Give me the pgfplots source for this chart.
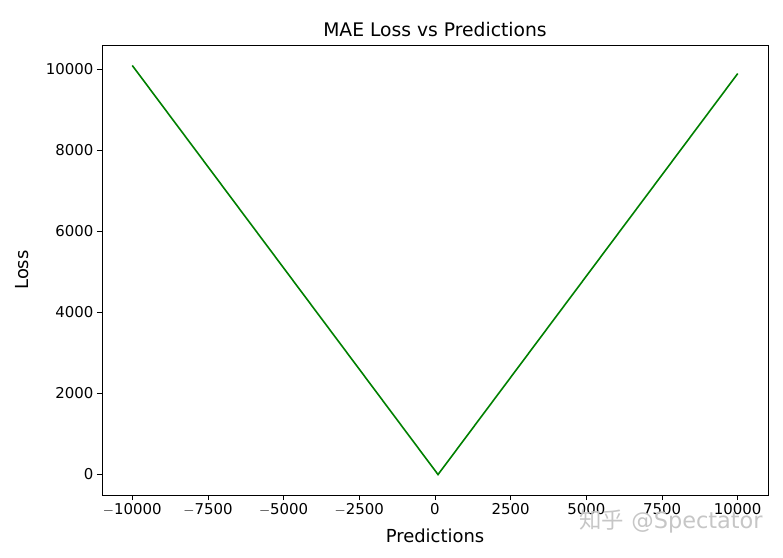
\documentclass[border=0pt]{standalone}
\usepackage{pgfplots}
\pgfplotsset{compat=1.18}
\usepackage{fontspec}
\setmainfont{DejaVu Sans}
\newfontfamily\cjk{Noto Sans CJK SC}
\definecolor{mplgreen}{HTML}{008000}
\begin{document}
\begin{tikzpicture}
\useasboundingbox (-102bp,-63bp) rectangle (681bp,495bp);
\begin{axis}[
  at={(0,0)}, anchor=south west,
  scale only axis, width=666bp, height=450bp,
  xmin=-11000, xmax=11000, ymin=-505, ymax=10605,
  xtick={-10000,-7500,-5000,-2500,0,2500,5000,7500,10000},
  ytick={0,2000,4000,6000,8000,10000},
  xticklabels={$-$10000,$-$7500,$-$5000,$-$2500,0,2500,5000,7500,10000},
  scaled ticks=false,
  /pgf/number format/assume math mode=true,
  /pgf/number format/.cd, set thousands separator={}, /pgfplots/.cd,
  tick align=outside, tick pos=left,
  major tick length=5bp,
  every tick/.style={black, line width=0.8bp},
  axis line style={line width=0.8bp},
  ticklabel style={font=\fontsize{15}{18}\selectfont},
  title={MAE Loss vs Predictions},
  title style={font=\fontsize{18.8}{22}\selectfont, yshift=-1bp},
  xlabel={Predictions},
  ylabel={Loss},
  label style={font=\fontsize{18}{21}\selectfont},
  xlabel style={yshift=-6bp},
  ylabel style={yshift=10bp},
]
\addplot[mplgreen, line width=1.6bp] coordinates {(-10000,10100) (100,0) (10000,9900)};
\end{axis}
\node[anchor=center, text=gray!45, font=\fontsize{22.5}{26}\selectfont] at (569bp,-26bp) {{\cjk 知乎} @Spectator};
\end{tikzpicture}
\end{document}
